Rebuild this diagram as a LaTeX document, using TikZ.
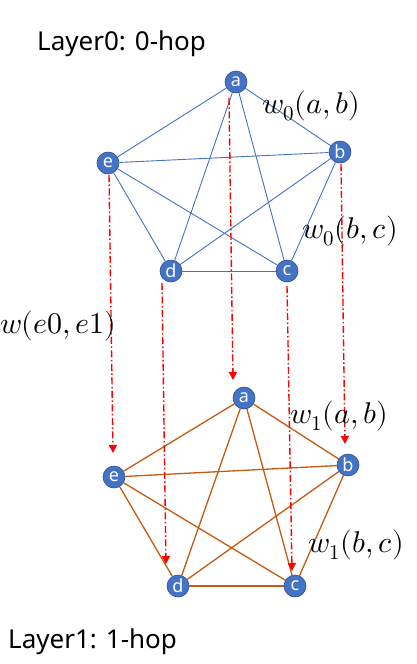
\documentclass[tikz,border=0pt]{standalone}
\usepackage{fontspec}
\usepackage{unicode-math}
\setmainfont{Noto Sans}
\setmathfont{Latin Modern Math}
\usetikzlibrary{arrows.meta}
\definecolor{nodeblue}{HTML}{4472C4}
\definecolor{nodeedge}{HTML}{2F528F}
\definecolor{edgeblue}{HTML}{4472C4}
\definecolor{edgeorange}{HTML}{C55A11}
\tikzset{
  vtx/.style={circle, fill=nodeblue, draw=nodeedge, line width=0.6pt, minimum size=22pt, inner sep=0pt,
    text=white, font=\fontsize{18}{18}\selectfont},
  e0/.style={draw=edgeblue, line width=0.9pt},
  e1/.style={draw=edgeorange, line width=1.3pt},
  proj/.style={draw=red, line width=1.4pt, dash pattern=on 7pt off 2.5pt on 1.5pt off 2.5pt,
    -{Triangle[width=8pt,length=8pt]}, red},
  lbl/.style={inner sep=0pt, anchor=base west, font=\fontsize{26}{26}\selectfont},
  mlbl/.style={inner sep=0pt, anchor=base west, font=\fontsize{30}{30}\selectfont},
}
\pgfdeclarelayer{bg}\pgfsetlayers{bg,main}
\begin{document}
\begin{tikzpicture}[x=1pt, y=-1pt]
\useasboundingbox (0,0) rectangle (416,664);
% top layer nodes
\node[vtx] (a0) at (236,82) {\raisebox{-2pt}{a}};
\node[vtx] (b0) at (340,152) {\raisebox{-2pt}{b}};
\node[vtx] (c0) at (287,271) {\raisebox{-2pt}{c}};
\node[vtx] (d0) at (171,271) {\raisebox{-2pt}{d}};
\node[vtx] (e0) at (108,163) {\raisebox{-2pt}{e}};
% bottom layer nodes
\node[vtx] (a1) at (244,398) {\raisebox{-2pt}{a}};
\node[vtx] (b1) at (348,465) {\raisebox{-2pt}{b}};
\node[vtx] (c1) at (295,586) {\raisebox{-2pt}{c}};
\node[vtx] (d1) at (178,586) {\raisebox{-2pt}{d}};
\node[vtx] (e1) at (114,477) {\raisebox{-2pt}{e}};
% edges behind nodes
\begin{pgfonlayer}{bg}
\foreach \u/\v in {a0/b0,a0/c0,a0/d0,a0/e0,b0/c0,b0/d0,b0/e0,c0/d0,c0/e0,d0/e0}
  \draw[e0] (\u) -- (\v);
\foreach \u/\v in {a1/b1,a1/c1,a1/d1,a1/e1,b1/c1,b1/d1,b1/e1,c1/d1,c1/e1,d1/e1}
  \draw[e1] (\u) -- (\v);
\end{pgfonlayer}
% projection arrows
\coordinate (sa) at (229,98);  \coordinate (ta) at (233,380);
\coordinate (sb) at (341,164); \coordinate (tb) at (345,444);
\coordinate (sc) at (287,286); \coordinate (tc) at (292,571);
\coordinate (sd) at (162,283); \coordinate (td) at (166,564);
\coordinate (se) at (109,175); \coordinate (te) at (113,453);
\foreach \p in {a,b,c,d,e}
  \draw[proj] (s\p) -- (t\p);
% labels
\node[lbl] (L0) at (37,50) {Layer0: 0-hop};
\node[lbl] (L1) at (8,648) {Layer1: 1-hop};
\node[mlbl] (w0ab) at (262,113) {$w_0(a,b)$};
\node[mlbl] (w0bc) at (302,238) {$w_0(b,c)$};
\node[mlbl] (wee) at (0,333) {$w(e0,e1)$};
\node[mlbl] (w1ab) at (290,423) {$w_1(a,b)$};
\node[mlbl] (w1bc) at (308,552) {$w_1(b,c)$};
\end{tikzpicture}
\end{document}
